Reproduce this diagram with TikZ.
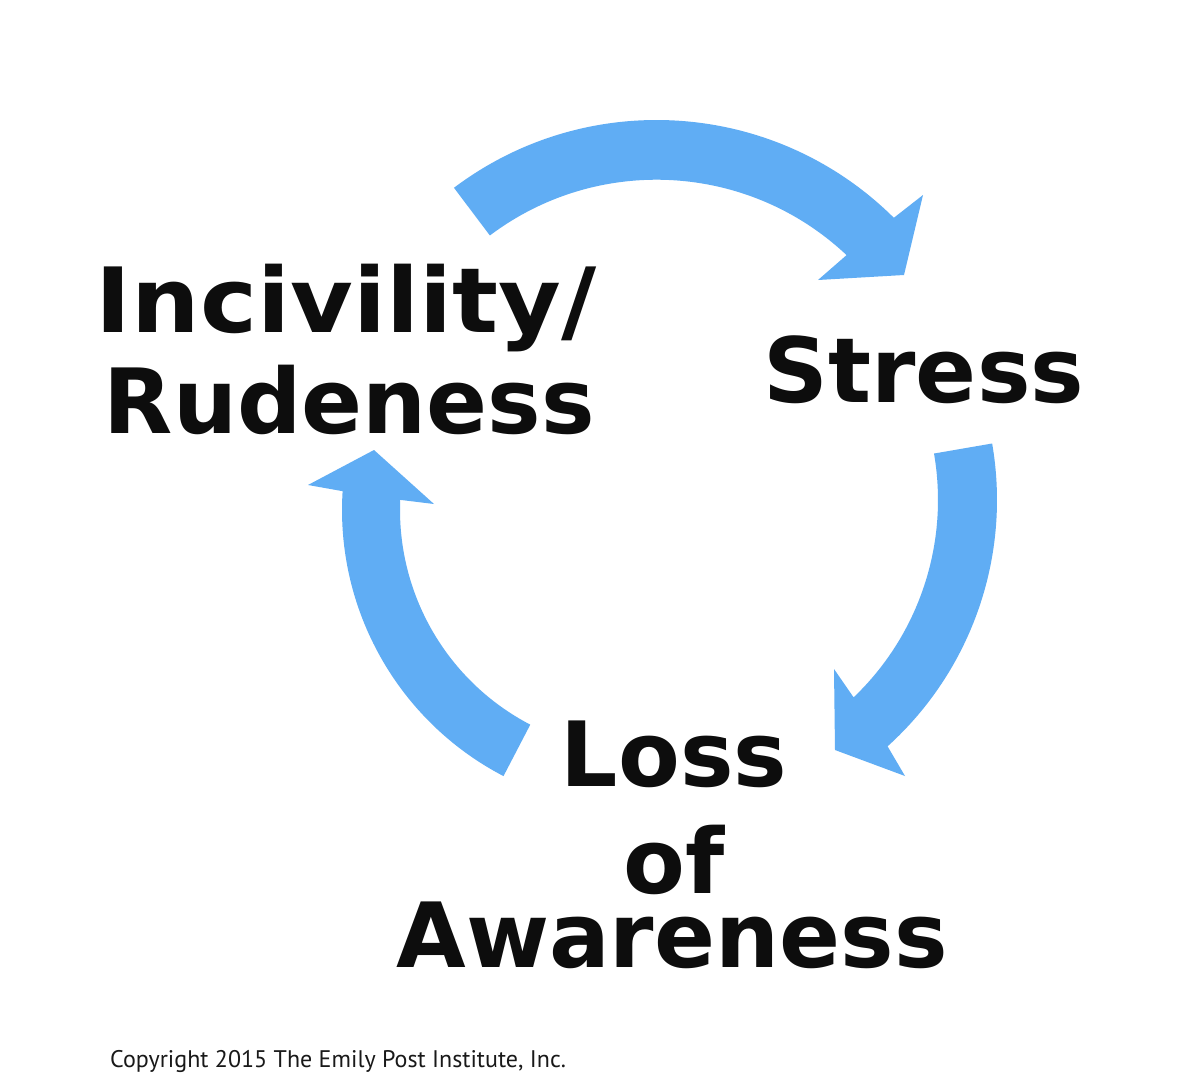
\documentclass[tikz,border=0pt]{standalone}
\usepackage{fontspec}
\newfontfamily\labelfont{DejaVu Sans}
\newfontfamily\copyfont{PT Sans}
\definecolor{arrowblue}{RGB}{96,173,244}
\begin{document}
\begin{tikzpicture}[x=1pt,y=-1pt,
  lbl/.style={inner sep=0pt, anchor=base, text height=66pt, text depth=0pt, font=\labelfont\bfseries\fontsize{90}{90}\selectfont, text=black!95},
  copytext/.style={inner sep=0pt, anchor=base west, font=\copyfont\fontsize{24}{24}\selectfont, text=black!90},
  blockarrow/.style={fill=arrowblue, draw=none}]
\useasboundingbox[fill=white] (0,0) rectangle (1200,1073);
% centres of the three circular arrows
\coordinate (cT) at (656.6,456.7);
\coordinate (cR) at (665,500);
\coordinate (cL) at (642,510);
% top arrow: Incivility -> Stress
\fill[blockarrow] ([shift={(cT)}]-127:336.7) arc[start angle=-127, end angle=-45.2, radius=336.7]
  -- (923,195) -- (904,275) -- (818,280)
  -- ([shift={(cT)}]-46.7:277) arc[start angle=-46.7, end angle=-127, radius=277] -- cycle;
% right arrow: Stress -> Loss of Awareness
\fill[blockarrow] ([shift={(cR)}]-9.8:332) arc[start angle=-9.8, end angle=47.9, radius=332]
  -- (905,776) -- (835,750) -- (834,669)
  -- ([shift={(cR)}]46.3:273) arc[start angle=46.3, end angle=-9.8, radius=273] -- cycle;
% left arrow: Loss of Awareness -> Incivility
\fill[blockarrow] ([shift={(cL)}]117.5:300) arc[start angle=117.5, end angle=183.6, radius=300]
  -- (308,485) -- (374,450) -- (434,504)
  -- ([shift={(cL)}]182.4:242) arc[start angle=182.4, end angle=117.5, radius=242] -- cycle;
% labels
\node[lbl] (inc) at (346,332) {\scalebox{1.07}[1]{Incivility/}};
\node[lbl] (rud) at (349.5,433) {Rudeness};
\node[lbl] (str) at (924,402) {Stress};
\node[lbl] (loss) at (674,786) {Loss};
\node[lbl] (of) at (674,893) {of};
\node[lbl] (awa) at (672,967) {Awareness};
\node[copytext] (copy) at (110,1067) {Copyright 2015 The Emily Post Institute, Inc.};
\end{tikzpicture}
\end{document}
